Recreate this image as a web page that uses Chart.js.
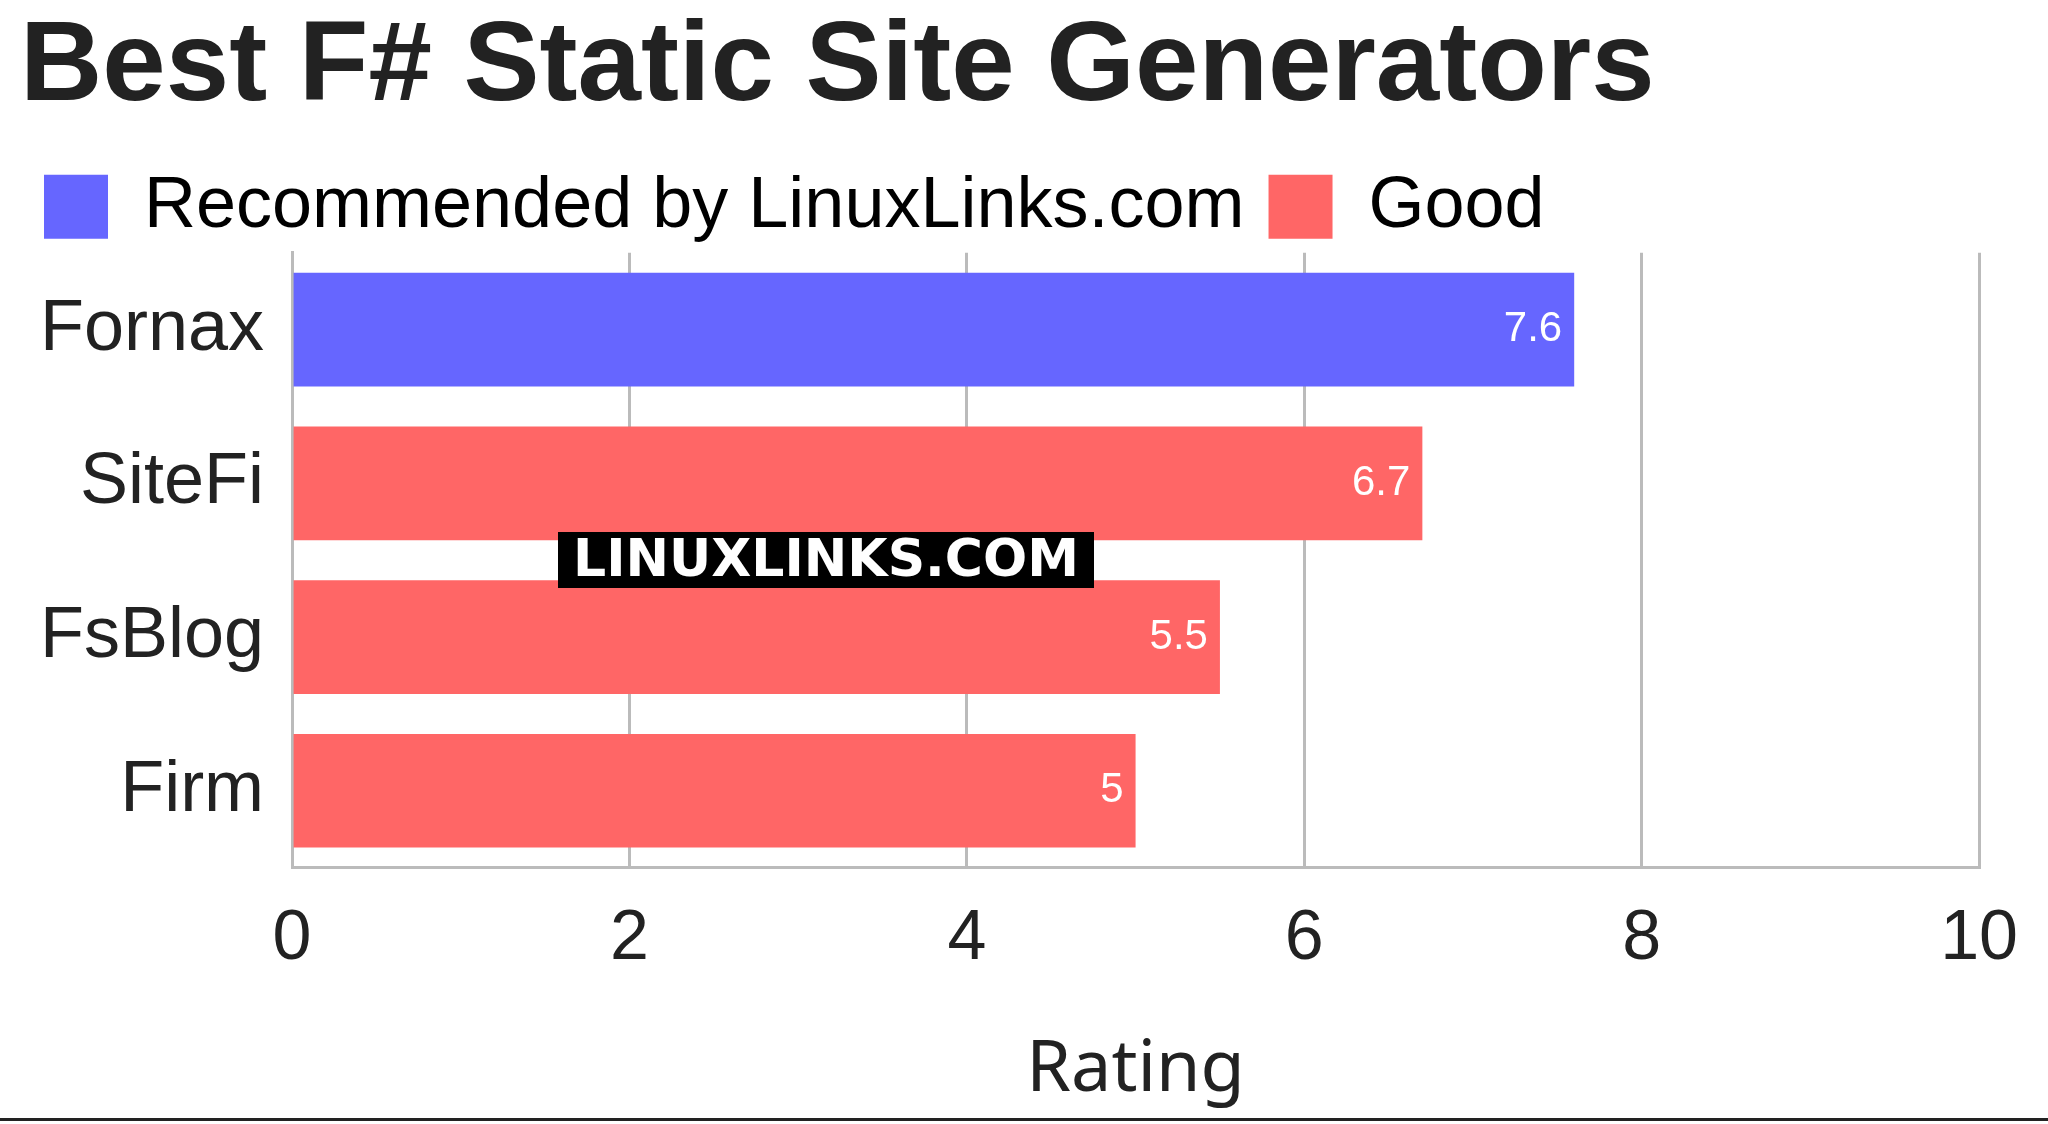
<!DOCTYPE html>
<html>
<head>
<meta charset="utf-8">
<script src="https://cdn.jsdelivr.net/npm/chart.js@4"></script>
<style>
  html, body { margin: 0; padding: 0; background: #fff; }
  #wrap { width: 2048px; height: 1124px; position: relative; }
</style>
</head>
<body>
<div id="wrap"><canvas id="chart"></canvas></div>
<script>
// --- DONNÉES ---
const categories = ['Fornax', 'SiteFi', 'FsBlog', 'Firm'];
const ratings = [7.6, 6.7, 5.5, 5];
const groups = ['rec', 'good', 'good', 'good'];
const legendNames = ['Recommended by LinuxLinks.com', 'Good'];
const xTicks = [0, 2, 4, 6, 8, 10];

const BLUE = '#6666ff';
const RED = '#ff6666';

// valeurs écrites au bout des barres + filigrane + trait du bas
const extras = {
  id: 'extras',
  afterDatasetsDraw(chart) {
    const ctx = chart.ctx;
    const meta = chart.getDatasetMeta(0);
    ctx.save();
    ctx.fillStyle = '#fff';
    ctx.font = '42px "Liberation Sans"';
    ctx.textAlign = 'right';
    ctx.textBaseline = 'middle';
    meta.data.forEach((bar, i) => {
      ctx.fillText(String(ratings[i]), bar.x - 12, bar.y);
    });
    ctx.restore();
  },
  afterDraw(chart) {
    const ctx = chart.ctx;
    ctx.save();
    // filigrane
    ctx.fillStyle = '#000';
    ctx.fillRect(558, 532, 536, 56);
    ctx.fillStyle = '#fff';
    ctx.font = 'bold 52px "DejaVu Sans"';
    ctx.textAlign = 'center';
    ctx.textBaseline = 'middle';
    ctx.fillText('LINUXLINKS.COM', 826, 562);
    // trait du bas
    ctx.fillStyle = '#222';
    ctx.fillRect(0, 1118, 2048, 3);
    ctx.restore();
  }
};

new Chart(document.getElementById('chart'), {
  type: 'bar',
  data: {
    labels: categories,
    datasets: [{
      data: ratings,
      backgroundColor: groups.map(g => g === 'rec' ? BLUE : RED),
      barPercentage: 0.74,
      categoryPercentage: 1
    }]
  },
  options: {
    indexAxis: 'y',
    responsive: true,
    maintainAspectRatio: false,
    animation: false,
    layout: { padding: { left: 20, right: 20, top: 0, bottom: 6 } },
    plugins: {
      title: {
        display: true,
        text: 'Best F# Static Site Generators',
        align: 'start',
        color: '#222',
        font: { family: 'Liberation Sans', size: 114, weight: 'bold' },
        padding: { top: 0, bottom: 10 }
      },
      legend: {
        display: true,
        align: 'start',
        labels: {
          color: '#222',
          font: { family: 'Liberation Sans', size: 72 },
          boxWidth: 64,
          boxHeight: 64,
          padding: 24,
          generateLabels: () => legendNames.map((n, i) => ({
            text: n,
            fillStyle: i === 0 ? BLUE : RED,
            strokeStyle: i === 0 ? BLUE : RED,
            lineWidth: 0,
            hidden: false
          }))
        },
        onClick: null
      },
      tooltip: { enabled: false }
    },
    scales: {
      x: {
        min: 0,
        max: 10,
        afterBuildTicks: (axis) => { axis.ticks = xTicks.map(v => ({ value: v })); },
        grid: { color: '#bbb', lineWidth: 3, drawTicks: false },
        border: { color: '#bbb', width: 3 },
        ticks: {
          color: '#222',
          font: { family: 'Liberation Sans', size: 70 },
          padding: 30
        },
        title: {
          display: true,
          text: 'Rating',
          color: '#222',
          font: { family: 'Noto Sans', size: 72 },
          padding: { top: 16 }
        }
      },
      y: {
        grid: { display: false },
        border: { color: '#bbb', width: 3 },
        ticks: {
          color: '#222',
          font: { family: 'Liberation Sans', size: 72 },
          padding: 20
        }
      }
    }
  },
  plugins: [extras]
});
</script>
</body>
</html>
